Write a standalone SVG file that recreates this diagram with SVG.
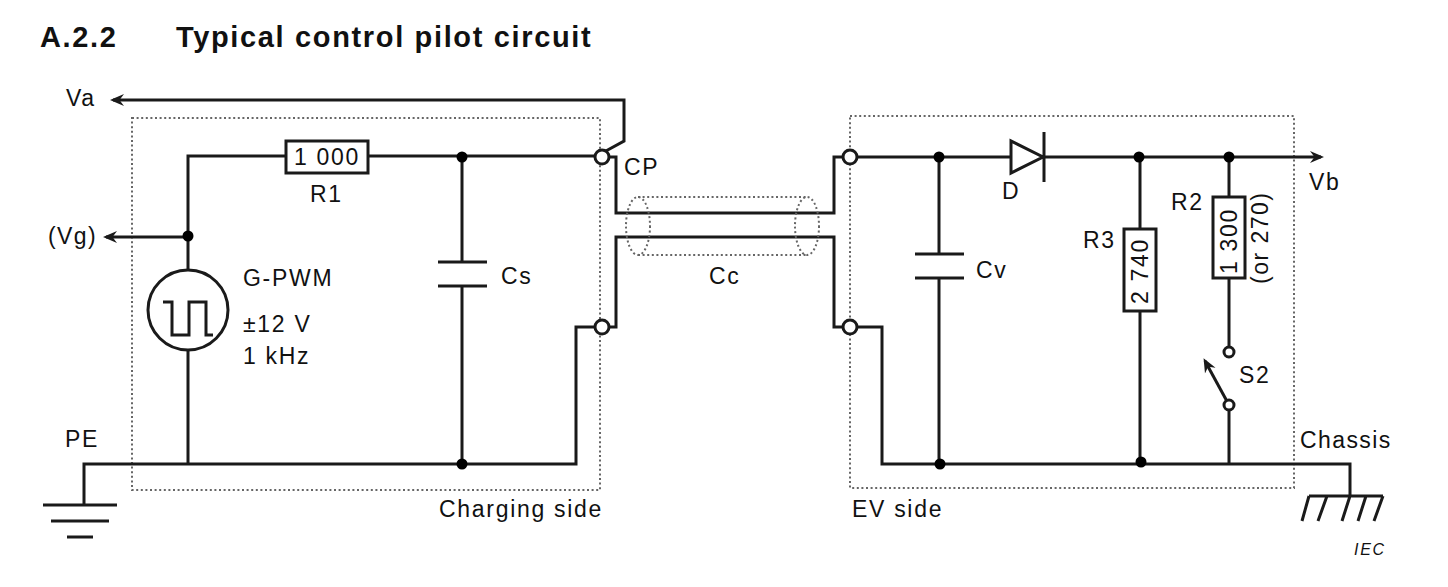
<svg xmlns="http://www.w3.org/2000/svg" width="1448" height="587" viewBox="0 0 1448 587">
<style>
text{font-family:"Liberation Sans",Arial,sans-serif;font-size:23px;fill:#111;letter-spacing:1.7px}
.t{font-size:29px;font-weight:700;letter-spacing:1.65px}
.w{fill:none;stroke:#1a1a1a;stroke-width:3;stroke-linejoin:miter}
.d{fill:none;stroke:#666;stroke-width:2;stroke-dasharray:2 2.6}
.b{fill:#fff;stroke:#1a1a1a;stroke-width:3}
.j{fill:#000}
.o{fill:#fff;stroke:#1a1a1a;stroke-width:3}
</style>
<defs><marker id="a" markerWidth="15" markerHeight="14" refX="11" refY="7" orient="auto" markerUnits="userSpaceOnUse"><path d="M0 1L14 7L0 13L4.5 7Z" fill="#1a1a1a"/></marker></defs>
<text class="t" x="40" y="47">A.2.2</text>
<text class="t" x="176" y="47">Typical control pilot circuit</text>
<g id="boundaries">
<rect class="d" x="132" y="118" width="468" height="372"/>
<rect class="d" x="850" y="116" width="444" height="372"/>
</g>
<g id="connectors">
<path class="w" marker-end="url(#a)" d="M604 152L624 141V100H113"/>
<path class="w" d="M285 156H188V464"/>
<path class="w" marker-end="url(#a)" d="M188 237H106"/>
<path class="w" d="M368 156H602"/>
<path class="w" d="M462 156V262M462 286V464"/>
<path class="w" d="M84 505V464H576V327H602"/>
<path class="w" d="M602 157H616V213H834V157H850"/>
<path class="w" d="M602 327H616V237H834V327H850"/>
<path class="w" d="M850 327H882V464H1350V496"/>
<path class="w" d="M850 157H1011"/>
<path class="w" marker-end="url(#a)" d="M1044 157H1321"/>
<path class="w" d="M939 157V254M939 278V464"/>
<path class="w" d="M1140 157V229M1140 311V464"/>
<path class="w" d="M1229 157V197M1229 278V347M1229 410V464"/>
<path class="w" marker-end="url(#a)" d="M1229 405L1205 361"/>
</g>
<g id="cable-Cc">
<ellipse class="d" cx="638" cy="226" rx="12" ry="29"/>
<ellipse class="d" cx="807" cy="226" rx="12" ry="29"/>
<path class="d" d="M638 197H807M638 255H807"/>
<text x="709" y="284">Cc</text>
</g>
<g id="junctions">
<circle class="j" cx="188" cy="236" r="5.5"/><circle class="j" cx="462" cy="157" r="5.5"/><circle class="j" cx="462" cy="464" r="5.5"/>
<circle class="j" cx="939" cy="157" r="5.5"/><circle class="j" cx="1139" cy="157" r="5.5"/><circle class="j" cx="1229" cy="157" r="5.5"/>
<circle class="j" cx="940" cy="464" r="5.5"/><circle class="j" cx="1141" cy="462" r="5.5"/>
</g>
<g id="terminals">
<circle class="o" cx="602" cy="157" r="7"/><circle class="o" cx="602" cy="327" r="7"/>
<circle class="o" cx="850" cy="157" r="7"/><circle class="o" cx="850" cy="327" r="7"/>
<text x="624" y="175">CP</text>
</g>
<g id="R1"><rect class="b" x="286" y="141" width="82" height="32"/><text x="294" y="165">1 000</text><text x="310" y="202">R1</text></g>
<g id="G-PWM">
<circle class="o" cx="188" cy="310" r="40"/>
<path class="w" d="M163 302H172V335H189V302H206V335H213"/>
<text x="243" y="286">G-PWM</text><text x="243" y="332">±12 V</text><text x="243" y="364">1 kHz</text>
</g>
<g id="Cs"><path class="w" d="M438 262H487M438 286H487"/><text x="501" y="284">Cs</text></g>
<g id="Cv"><path class="w" d="M915 254H964M915 278H964"/><text x="976" y="278">Cv</text></g>
<g id="D"><path class="w" d="M1011 141V173L1043 157ZM1044 132V182"/><text x="1002" y="199">D</text></g>
<g id="R3"><rect class="b" x="1124" y="229" width="32" height="82"/><text transform="translate(1148 304) rotate(-90)">2 740</text><text x="1083" y="248">R3</text></g>
<g id="R2"><rect class="b" x="1213" y="197" width="32" height="81"/><text transform="translate(1237 274) rotate(-90)">1 300</text><text transform="translate(1268 284) rotate(-90)" style="letter-spacing:1.5px">(or 270)</text><text x="1171" y="210">R2</text></g>
<g id="S2"><circle class="o" cx="1229" cy="352" r="5"/><circle class="o" cx="1229" cy="405" r="5"/><text x="1239" y="383">S2</text></g>
<g id="PE"><path class="w" d="M43 505H117M51 521H109M67 537H93"/><text x="65" y="447">PE</text></g>
<g id="Chassis"><path class="w" d="M1309 496H1383M1309 496L1302 521M1327 496L1318 521M1350 496L1342 521M1366 496L1358 521M1383 496L1374 521"/><text x="1300" y="448" style="letter-spacing:1.4px">Chassis</text></g>
<g id="labels">
<text x="66" y="106">Va</text><text x="48" y="244" style="letter-spacing:1.4px">(Vg)</text><text x="1309" y="190">Vb</text>
<text x="439" y="517">Charging side</text><text x="852" y="517">EV side</text>
<text x="1354" y="555" style="font-size:16px;font-style:italic">IEC</text>
</g>
</svg>
